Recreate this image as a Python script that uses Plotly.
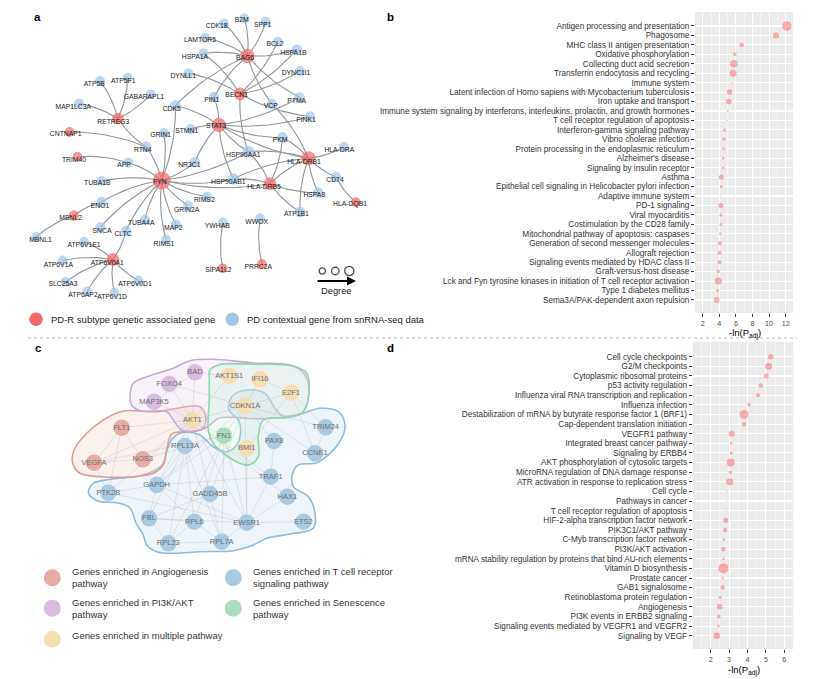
import numpy as np
import plotly.graph_objects as go

W, H = 828, 679

# ---------------- Panel b data ----------------
b_terms = [
    "Antigen processing and presentation", "Phagosome", "MHC class II antigen presentation",
    "Oxidative phosphorylation", "Collecting duct acid secretion", "Transferrin endocytosis and recycling",
    "Immune system", "Latent infection of Homo sapiens with Mycobacterium tuberculosis",
    "Iron uptake and transport",
    "Immune system signaling by interferons, interleukins, prolactin, and growth hormones",
    "T cell receptor regulation of apoptosis", "Interferon-gamma signaling pathway",
    "Vibrio cholerae infection", "Protein processing in the endoplasmic reticulum",
    "Alzheimer's disease", "Signaling by insulin receptor", "Asthma",
    "Epithelial cell signaling in Helicobacter pylori infection", "Adaptive immune system",
    "PD-1 signaling", "Viral myocarditis", "Costimulation by the CD28 family",
    "Mitochondrial pathway of apoptosis: caspases", "Generation of second messenger molecules",
    "Allograft rejection", "Signaling events mediated by HDAC class II", "Graft-versus-host disease",
    "Lck and Fyn tyrosine kinases in initiation of T cell receptor activation",
    "Type 1 diabetes mellitus", "Sema3A/PAK-dependent axon repulsion",
]
b_values = [12.15, 10.84, 6.7, 5.87, 5.75, 5.67, 5.51, 5.23, 5.15, 5.03, 4.91, 4.63, 4.55, 4.51,
            4.47, 4.47, 4.23, 4.23, 4.23, 4.19, 4.19, 4.19, 4.11, 4.07, 4.03, 4.03, 3.87, 3.87,
            3.79, 3.67]
b_ratio = [9.5, 6, 4.5, 3.5, 7.5, 7, 1.5, 5.5, 5.5, 2, 1.5, 3, 3.5, 2.5, 2.5, 2.5, 5, 3, 1.2,
           5, 3, 3, 2.5, 4, 4, 4, 3.5, 7, 3, 6]

# ---------------- Panel d data ----------------
d_terms = [
    "Cell cycle checkpoints", "G2/M checkpoints", "Cytoplasmic ribosomal proteins",
    "p53 activity regulation", "Influenza viral RNA transcription and replication",
    "Influenza infection", "Destabilization of mRNA by butyrate response factor 1 (BRF1)",
    "Cap-dependent translation initiation", "VEGFR1 pathway", "Integrated breast cancer pathway",
    "Signaling by ERBB4", "AKT phosphorylation of cytosolic targets",
    "MicroRNA regulation of DNA damage response", "ATR activation in response to replication stress",
    "Cell cycle", "Pathways in cancer", "T cell receptor regulation of apoptosis",
    "HIF-2-alpha transcription factor network", "PIK3C1/AKT pathway",
    "C-Myb transcription factor network", "PI3K/AKT activation",
    "mRNA stability regulation by proteins that bind AU-rich elements", "Vitamin D biosynthesis",
    "Prostate cancer", "GAB1 signalosome", "Retinoblastoma protein regulation", "Angiogenesis",
    "PI3K events in ERBB2 signaling", "Signaling events mediated by VEGFR1 and VEGFR2",
    "Signaling by VEGF",
]
d_values = [5.26, 5.15, 5.02, 4.72, 4.57, 4.08, 3.81, 3.81, 3.14, 3.12, 3.12, 3.09, 3.07, 3.03,
            2.90, 2.87, 2.87, 2.82, 2.78, 2.71, 2.69, 2.69, 2.69, 2.65, 2.65, 2.51, 2.49, 2.44,
            2.42, 2.33]
d_ratio = [5.5, 7, 5, 4.5, 4, 3.5, 9, 4.5, 6, 2.5, 3, 8, 3.5, 7, 1.2, 1.2, 1, 5, 4.5, 2.5, 4.5,
           2.5, 10, 2.5, 4.5, 3, 5.5, 3.5, 2.5, 6.5]

# ---------------- Panel a network (layout in page pixels) ----------------
a_nodes = [  # name, kind (R = PD-R gene, B = contextual), node x, y, label x, y
    ("B2M", "B", 244.3, 18.3, 241.7, 20.7), ("SPP1", "B", 265.7, 21.7, 262.7, 25),
    ("CDK18", "B", 224, 23.3, 216.7, 26), ("LAMTOR5", "B", 205, 37.7, 200, 40.7),
    ("BCL2", "B", 277.7, 41.7, 275, 44.3), ("HSPA1B", "B", 296.7, 49.3, 293.3, 53.3),
    ("BAG6", "R", 247.5, 56, 245, 58.7), ("HSPA1A", "B", 203.3, 53.3, 195, 57.3),
    ("DYNC1I1", "B", 300, 71, 296, 73.3), ("DYNLL1", "B", 188.3, 73.3, 183.3, 76.7),
    ("BECN1", "R", 240, 94, 236.7, 95.7), ("PIN1", "B", 214, 97, 211.7, 100.7),
    ("VCP", "B", 272, 104, 270.7, 106.7), ("PTMA", "B", 299.5, 97.3, 296.7, 101),
    ("CDK5", "B", 175.5, 105.5, 171.7, 109.3), ("ATP5B", "B", 100, 81, 94.3, 84.3),
    ("ATP5F1", "B", 127.7, 77.7, 123.3, 81), ("GABARAPL1", "B", 150.7, 94.3, 144, 97.3),
    ("MAP1LC3A", "B", 79, 103.3, 73.3, 107.7), ("RETREG3", "R", 118, 118.7, 113.3, 122.3),
    ("PINK1", "B", 310, 116.5, 306, 120), ("STAT3", "R", 219, 125, 216, 126.7),
    ("STMN1", "B", 190.5, 129, 186.7, 131.7), ("CNTNAP1", "R", 69.5, 132, 65.7, 134.7),
    ("GRIN1", "B", 164, 133, 160.7, 135.3), ("PKM", "B", 282.5, 137.5, 280, 140.7),
    ("RTN4", "B", 146, 146.7, 142.7, 150.5), ("HSP90AA1", "B", 248.3, 151.7, 243.3, 155.7),
    ("HLA-DRB1", "R", 308.5, 158.3, 304, 162.3), ("HLA-DRA", "B", 344, 147, 339.3, 150.7),
    ("TRIM40", "R", 77.5, 156.7, 74, 160.3), ("APP", "B", 128.3, 162.7, 124, 165.7),
    ("NR3C1", "B", 195, 162, 189.3, 165.7), ("FYN", "R", 161.7, 180.5, 160, 182),
    ("TUBA1B", "B", 101.7, 181, 97.3, 183.7), ("HSP90AB1", "B", 233.5, 179, 228.3, 182.5),
    ("HLA-DRB5", "R", 270, 183.7, 264, 187), ("CD74", "B", 336, 177, 335, 180),
    ("HSPA8", "B", 318.3, 192.5, 314.3, 195.3), ("HLA-DQB1", "R", 355.8, 202.2, 350, 204.3),
    ("RIMS2", "B", 207.3, 196.7, 204.3, 200.7), ("ENO1", "B", 101.5, 202, 100, 206.7),
    ("GRIN2A", "B", 188, 205.5, 186.7, 210.5), ("ATP1B1", "B", 300, 212, 296.5, 214),
    ("MBNL2", "R", 73.8, 215.5, 70.7, 218.7), ("YWHAB", "B", 223, 222.5, 217.3, 226.5),
    ("WWOX", "B", 260, 218.5, 256.7, 222), ("TUBA4A", "B", 145, 219.5, 141.2, 223.7),
    ("SNCA", "B", 100.5, 227, 102, 231.3), ("CLTC", "B", 126, 231, 123, 234.7),
    ("MAP2", "B", 176, 224.5, 173.3, 228.7), ("MBNL1", "B", 36, 237, 40.5, 240.7),
    ("RIMS1", "B", 166, 239.5, 164, 244), ("ATP6V1E1", "B", 84, 241.7, 84, 245.7),
    ("ATP6V0A1", "R", 113, 259.5, 107.3, 263.3), ("ATP6V1A", "B", 62.7, 260.5, 58.3, 265.3),
    ("SIPA1L2", "R", 222.7, 268.3, 218.3, 270), ("PRRC2A", "R", 262, 264, 258.3, 267.3),
    ("SLC25A3", "B", 65.5, 282, 63, 284.3), ("ATP6V0D1", "B", 138.5, 280.5, 135, 284.2),
    ("ATP6AP2", "B", 87.3, 291.5, 83, 295.5), ("ATP6V1D", "B", 114.5, 292.5, 112, 297.3),
]
a_edges = [
    ("BAG6", "B2M"), ("BAG6", "SPP1"), ("BAG6", "CDK18"), ("BAG6", "LAMTOR5"), ("BAG6", "HSPA1A"),
    ("BAG6", "HSPA1B"), ("BAG6", "CDK5"), ("BAG6", "PIN1"), ("BAG6", "VCP"), ("BAG6", "PTMA"),
    ("BECN1", "HSPA1A"), ("BECN1", "DYNLL1"), ("BECN1", "BCL2"), ("BECN1", "HSPA1B"),
    ("BECN1", "DYNC1I1"), ("BECN1", "PINK1"), ("BECN1", "HSP90AA1"),
    ("STAT3", "PIN1"), ("STAT3", "CDK5"), ("STAT3", "STMN1"), ("STAT3", "PTMA"), ("STAT3", "PINK1"),
    ("STAT3", "PKM"), ("STAT3", "HSP90AA1"), ("STAT3", "HSP90AB1"), ("STAT3", "NR3C1"),
    ("STAT3", "HLA-DRB1"),
    ("FYN", "RTN4"), ("FYN", "APP"), ("FYN", "TUBA1B"), ("FYN", "ENO1"), ("FYN", "SNCA"),
    ("FYN", "TUBA4A"), ("FYN", "RIMS1"), ("FYN", "MAP2"), ("FYN", "GRIN2A"), ("FYN", "RIMS2"),
    ("FYN", "HSP90AB1"), ("FYN", "HSP90AA1"), ("FYN", "NR3C1"), ("FYN", "GRIN1"), ("FYN", "CDK5"),
    ("FYN", "CLTC"), ("FYN", "HLA-DRB5"),
    ("RETREG3", "ATP5B"), ("RETREG3", "ATP5F1"), ("RETREG3", "GABARAPL1"), ("RETREG3", "MAP1LC3A"),
    ("RETREG3", "RTN4"), ("RTN4", "CNTNAP1"), ("APP", "TRIM40"), ("ENO1", "MBNL2"),
    ("MBNL2", "MBNL1"),
    ("ATP6V0A1", "ATP6V1E1"), ("ATP6V0A1", "ATP6V1A"), ("ATP6V0A1", "SLC25A3"),
    ("ATP6V0A1", "ATP6AP2"), ("ATP6V0A1", "ATP6V1D"), ("ATP6V0A1", "ATP6V0D1"),
    ("ATP6V0A1", "CLTC"),
    ("HLA-DRB1", "HLA-DRA"), ("HLA-DRB1", "CD74"), ("HLA-DRB1", "HSPA8"), ("HLA-DRB1", "ATP1B1"),
    ("HLA-DRB1", "VCP"), ("HLA-DRB1", "PKM"), ("HLA-DRB1", "HSP90AA1"), ("HLA-DRB1", "HSP90AB1"),
    ("HLA-DRB1", "HLA-DRB5"),
    ("HLA-DRB5", "HSP90AB1"), ("HLA-DRB5", "HSPA8"), ("HLA-DRB5", "ATP1B1"), ("HLA-DRB5", "PKM"),
    ("HLA-DRB5", "HSP90AA1"),
    ("CD74", "HLA-DQB1"), ("YWHAB", "SIPA1L2"), ("WWOX", "PRRC2A"),
]

# ---------------- Panel c network ----------------
c_groups = {
    "A": ("Genes enriched in Angiogenesis<br>pathway", "#E6ABA4"),
    "T": ("Genes enriched in T cell receptor<br>signaling pathway", "#A9CAE3"),
    "P": ("Genes enriched in PI3K/AKT<br>pathway", "#D9BDE1"),
    "S": ("Genes enriched in Senescence<br>pathway", "#AADDBF"),
    "M": ("Genes enriched in multiple pathway", "#F5DDB4"),
}
c_nodes = [
    ("BAD", "P", 195, 372.3), ("FOXO4", "P", 169.3, 384), ("MAP3K5", "P", 154, 401.7),
    ("AKT1S1", "M", 229.3, 376), ("IFI16", "M", 260, 379.3), ("E2F1", "M", 291, 392.7),
    ("CDKN1A", "M", 245, 406), ("AKT1", "M", 192.3, 420), ("FLT1", "A", 121.7, 427.7),
    ("FN1", "S", 224, 435.7), ("BMI1", "M", 246.7, 448.3), ("PAX8", "T", 274, 441),
    ("TRIM24", "T", 325.7, 427.3), ("CCNE1", "T", 315, 453.3), ("RPL13A", "T", 185, 446),
    ("VEGFA", "A", 94, 462.7), ("NOS3", "A", 142.7, 459.3), ("TRAF1", "T", 270.7, 476.7),
    ("GAPDH", "T", 156.7, 485), ("PTK2B", "T", 108.3, 492.7), ("GADD45B", "T", 210, 494),
    ("HAX1", "T", 287.3, 496.7), ("FBL", "T", 149, 518.3), ("RPL6", "T", 194.3, 521.7),
    ("EWSR1", "T", 246.7, 522.7), ("ETS2", "T", 303.3, 521.7), ("RPL23", "T", 168.3, 543.3),
    ("RPL7A", "T", 221.7, 541.7),
]
c_edges = [
    ("VEGFA", "FLT1"), ("VEGFA", "NOS3"), ("VEGFA", "AKT1"), ("VEGFA", "PTK2B"), ("VEGFA", "FN1"),
    ("FLT1", "NOS3"), ("FLT1", "AKT1"), ("FLT1", "PTK2B"), ("NOS3", "AKT1"), ("NOS3", "FN1"),
    ("MAP3K5", "AKT1"), ("MAP3K5", "BAD"), ("FOXO4", "AKT1"), ("FOXO4", "CDKN1A"),
    ("BAD", "AKT1"), ("BAD", "AKT1S1"), ("AKT1S1", "AKT1"), ("IFI16", "CDKN1A"), ("IFI16", "E2F1"),
    ("E2F1", "CDKN1A"), ("E2F1", "CCNE1"), ("E2F1", "TRIM24"), ("E2F1", "BMI1"),
    ("CDKN1A", "AKT1"), ("CDKN1A", "FN1"), ("CDKN1A", "PAX8"), ("CDKN1A", "CCNE1"),
    ("CDKN1A", "GADD45B"), ("CDKN1A", "EWSR1"), ("CDKN1A", "GAPDH"), ("CDKN1A", "TRIM24"),
    ("AKT1", "FN1"), ("AKT1", "GAPDH"), ("AKT1", "RPL13A"), ("AKT1", "GADD45B"), ("AKT1", "EWSR1"),
    ("AKT1", "PTK2B"), ("AKT1", "TRAF1"), ("AKT1", "HAX1"), ("FN1", "GAPDH"), ("FN1", "RPL6"),
    ("FN1", "EWSR1"), ("FN1", "RPL7A"), ("FN1", "RPL23"), ("BMI1", "EWSR1"),
    ("RPL13A", "RPL6"), ("RPL13A", "RPL7A"), ("RPL13A", "FBL"), ("RPL13A", "RPL23"),
    ("RPL13A", "GAPDH"), ("GAPDH", "FBL"), ("GAPDH", "EWSR1"), ("GAPDH", "PTK2B"),
    ("GAPDH", "TRAF1"), ("GAPDH", "RPL6"), ("GADD45B", "RPL7A"), ("GADD45B", "FBL"),
    ("PTK2B", "EWSR1"), ("FBL", "RPL6"), ("FBL", "EWSR1"), ("FBL", "RPL23"), ("RPL6", "RPL7A"),
    ("RPL6", "RPL23"), ("RPL23", "RPL7A"), ("EWSR1", "ETS2"), ("EWSR1", "RPL7A"),
    ("EWSR1", "HAX1"), ("EWSR1", "TRAF1"), ("PAX8", "TRAF1"), ("CCNE1", "TRIM24"),
]
# pathway hull outlines (page pixels): outline colour, fill colour, points
c_hulls = [
    ("#8DBBDD", "rgba(205,224,240,0.35)", [
        (228.3, 406.7), (233.3, 395), (248.3, 390), (265, 393.3), (275, 408.3), (283.3, 416),
        (300, 414), (320, 408.3), (338.3, 411.7), (345, 425), (341.7, 438.3), (330, 453.3),
        (316.7, 462.7), (298.3, 465), (292.7, 473.3), (293.3, 486.7), (308.3, 496.7),
        (315, 513.3), (313.3, 528.3), (290, 534), (266.7, 538.3), (253.3, 545), (233.3, 550.7),
        (200, 551.7), (173.3, 553.3), (156.7, 551.7), (146.7, 545), (143.3, 535), (136, 523),
        (130, 508), (118, 503), (98, 501), (88.5, 493), (93, 483.5), (110, 479.3), (143.3, 475),
        (162, 465), (167, 450), (172, 439), (181.7, 432.7), (200, 435), (213.3, 446.7),
        (226.7, 451.7), (236.7, 445), (240.7, 430), (238.3, 420), (230, 411.7)]),
    ("#E39A91", "rgba(240,205,200,0.30)", [
        (200, 406.7), (206, 418.3), (201.7, 429.3), (186.7, 431.7), (171.7, 434), (166.7, 450),
        (163.3, 465), (153.3, 473.3), (133.3, 476.7), (100, 476.7), (80, 473.3), (72.7, 463.3),
        (74, 450), (86.7, 433.3), (103.3, 420), (123.3, 411), (156.7, 411.7), (180, 407.7)]),
    ("#C8A7D8", "rgba(228,208,236,0.28)", [
        (130, 396.7), (133.3, 383.3), (146.7, 376.7), (173.3, 368.3), (190, 360.7),
        (213.3, 359.3), (253.3, 363), (293.3, 366), (306.7, 378), (308.3, 398.3), (301.7, 413.3),
        (283.3, 417.3), (253.3, 418.7), (233.3, 417.3), (218.3, 418.3), (210, 425), (200, 430),
        (181.7, 430), (173.3, 420), (166.7, 411.7), (140, 410.7), (131.7, 405)]),
    ("#8FD6AA", "rgba(205,236,215,0.28)", [
        (210, 370), (220, 364.5), (253.3, 364.3), (293.3, 366), (306.7, 373.3), (309, 393.3),
        (303.3, 411.7), (290, 417.3), (263.3, 420), (258.3, 436.7), (258.3, 456.7), (248.3, 465),
        (233.3, 460), (213.3, 443.3), (208.3, 430), (209.3, 400), (209.3, 380)]),
]

# ---------------- helpers ----------------
def curve(p, q, bend=0.12, n=14):
    x0, y0 = p
    x1, y1 = q
    cx = (x0 + x1) / 2 - (y1 - y0) * bend
    cy = (y0 + y1) / 2 + (x1 - x0) * bend
    t = np.linspace(0, 1, n)
    xs = (1 - t) ** 2 * x0 + 2 * (1 - t) * t * cx + t ** 2 * x1
    ys = (1 - t) ** 2 * y0 + 2 * (1 - t) * t * cy + t ** 2 * y1
    return list(xs), list(ys)

fig = go.Figure()
FONT = "Liberation Sans, Arial, sans-serif"

# ---------- panel a ----------
apos = {n[0]: (n[2], n[3]) for n in a_nodes}
deg = {n[0]: 0 for n in a_nodes}
ex, ey = [], []
for s, t in a_edges:
    deg[s] += 1
    deg[t] += 1
    xs, ys = curve(apos[s], apos[t], bend=0.1)
    ex += xs + [None]
    ey += ys + [None]
fig.add_trace(go.Scatter(x=ex, y=ey, mode="lines", line=dict(color="#8E959C", width=1.1),
                         hoverinfo="skip", xaxis="x", yaxis="y"))
for kind, col in (("B", "#A4C4E8"), ("R", "#F46A6A")):
    sub = [n for n in a_nodes if n[1] == kind]
    fig.add_trace(go.Scatter(
        x=[n[2] for n in sub], y=[n[3] for n in sub], mode="markers",
        marker=dict(color=col, size=[min(9.3 + 0.5 * deg[n[0]], 18.5) for n in sub],
                    line=dict(width=0)),
        hoverinfo="skip", xaxis="x", yaxis="y"))
fig.add_trace(go.Scatter(
    x=[n[4] for n in a_nodes], y=[n[5] for n in a_nodes], text=[n[0] for n in a_nodes],
    mode="text", textfont=dict(family=FONT, size=6.8, color="#151515"),
    hoverinfo="skip", xaxis="x", yaxis="y"))
# legend of panel a
fig.add_trace(go.Scatter(x=[36, 232.3], y=[319.3, 319.3], mode="markers",
                         marker=dict(color=["#F46A6A", "#A4C4E8"], size=13.5),
                         hoverinfo="skip", xaxis="x", yaxis="y"))
fig.add_trace(go.Scatter(x=[322.3, 335.3, 349.3], y=[271, 271, 271], mode="markers",
                         marker=dict(symbol="circle-open", color="black", size=[6.2, 7.5, 9.2],
                                     line=dict(width=1.3)),
                         hoverinfo="skip", xaxis="x", yaxis="y"))

# ---------- panel c ----------
for lc, fc, pts in c_hulls:
    xs = [p[0] for p in pts] + [pts[0][0]]
    ys = [p[1] for p in pts] + [pts[0][1]]
    fig.add_trace(go.Scatter(x=xs, y=ys, mode="lines", fill="toself", fillcolor=fc,
                             line=dict(color=lc, width=1.6, shape="spline", smoothing=1.0),
                             hoverinfo="skip", xaxis="x", yaxis="y"))
cpos = {n[0]: (n[2], n[3]) for n in c_nodes}
cx_, cy_ = [], []
for s, t in c_edges:
    cx_ += [cpos[s][0], cpos[t][0], None]
    cy_ += [cpos[s][1], cpos[t][1], None]
fig.add_trace(go.Scatter(x=cx_, y=cy_, mode="lines", line=dict(color="rgba(170,170,170,0.45)", width=0.6),
                         hoverinfo="skip", xaxis="x", yaxis="y"))
fig.add_trace(go.Scatter(
    x=[n[2] for n in c_nodes], y=[n[3] for n in c_nodes], mode="markers+text",
    text=[n[0] for n in c_nodes], textposition="middle center",
    textfont=dict(family=FONT, size=7.5, color="#6E6E6E"),
    marker=dict(color=[c_groups[n[1]][1] for n in c_nodes], size=16.5, line=dict(width=0)),
    hoverinfo="skip", xaxis="x", yaxis="y"))
# legend of panel c
c_leg_pos = {"A": (52.3, 577.7), "T": (233.3, 577.7), "P": (52.3, 608.3),
             "S": (233.3, 608.3), "M": (52.3, 639.3)}
fig.add_trace(go.Scatter(x=[c_leg_pos[k][0] for k in c_groups], y=[c_leg_pos[k][1] for k in c_groups],
                         mode="markers", marker=dict(color=[c_groups[k][1] for k in c_groups], size=17),
                         hoverinfo="skip", xaxis="x", yaxis="y"))

# ---------- panels b and d: dot plots ----------
DOT = "rgba(248,100,100,0.72)"
fig.add_trace(go.Scatter(x=b_values, y=list(range(len(b_terms))), mode="markers",
                         marker=dict(color=DOT, size=b_ratio, line=dict(width=0)),
                         hoverinfo="skip", xaxis="x2", yaxis="y2"))
fig.add_trace(go.Scatter(x=d_values, y=list(range(len(d_terms))), mode="markers",
                         marker=dict(color=DOT, size=d_ratio, line=dict(width=0)),
                         hoverinfo="skip", xaxis="x3", yaxis="y3"))

annotations = []
def ann(x, y, text, size, color="#111", xanchor="center", yanchor="middle", bold=False, align="left"):
    annotations.append(dict(x=x, y=y, xref="x", yref="y", text=f"<b>{text}</b>" if bold else text,
                            showarrow=False, xanchor=xanchor, yanchor=yanchor, align=align,
                            font=dict(family=FONT, size=size, color=color)))

ann(37.7, 16.7, "a", 11.5, "#000", bold=True)
ann(390, 17, "b", 11.5, "#000", bold=True)
ann(38.7, 348, "c", 11.5, "#000", bold=True)
ann(390, 348, "d", 11.5, "#000", bold=True)
ann(48.5, 319.5, "PD-R subtype genetic associated gene", 9.5, "#222", xanchor="left")
ann(245, 319.5, "PD contextual gene from snRNA-seq data", 9.5, "#222", xanchor="left")
ann(336, 291, "Degree", 9.3, "#222")
for k in c_groups:
    lx, ly = c_leg_pos[k]
    ann(lx + 17.5, ly - (4 if k == "M" else 0), c_groups[k][0], 9.5, "#333", xanchor="left")
ann(744.5, 333.5, "-ln(P<sub>adj</sub>)", 9.5, "#000")
ann(743.5, 670.5, "-ln(P<sub>adj</sub>)", 9.5, "#000")
# degree arrow
annotations.append(dict(x=356, y=281, ax=316, ay=281, xref="x", yref="y", axref="x", ayref="y",
                        text="", showarrow=True, arrowhead=2, arrowsize=1.0, arrowwidth=1.8,
                        arrowcolor="black"))

shapes = [
    dict(type="rect", xref="x2 domain", yref="y2 domain", x0=0, x1=1, y0=0, y1=1,
         fillcolor="#EBEBEB", line=dict(width=0), layer="below"),
    dict(type="rect", xref="x3 domain", yref="y3 domain", x0=0, x1=1, y0=0, y1=1,
         fillcolor="#EBEBEB", line=dict(width=0), layer="below"),
    dict(type="line", xref="x", yref="y", x0=28, x1=797, y0=338, y1=338,
         line=dict(color="#BDBDBD", width=1, dash="dot")),
]

def dot_x(rng, dtick, minor):
    return dict(range=rng, tick0=0, dtick=dtick, showgrid=True, gridcolor="white", gridwidth=1.1,
                zeroline=False, showline=False, ticks="outside", ticklen=3, tickwidth=1,
                tickcolor="#333", tickfont=dict(family=FONT, size=7.2, color="#4D4D4D"),
                minor=dict(dtick=minor, tick0=0, showgrid=True, gridcolor="white", gridwidth=0.5,
                           ticks=""), fixedrange=True)

def dot_y(rng, terms):
    return dict(range=rng, tickmode="array", tickvals=list(range(len(terms))), ticktext=terms,
                showgrid=True, gridcolor="white", gridwidth=1.1, zeroline=False, showline=False,
                ticks="outside", ticklen=3, tickwidth=1, tickcolor="#333",
                tickfont=dict(family=FONT, size=8.2, color="#333"), fixedrange=True)

fig.update_layout(
    width=W, height=H, margin=dict(l=0, r=0, t=0, b=0),
    paper_bgcolor="white", plot_bgcolor="rgba(0,0,0,0)", showlegend=False,
    font=dict(family=FONT),
    xaxis=dict(domain=[0, 1], range=[0, W], visible=False, fixedrange=True),
    yaxis=dict(domain=[0, 1], range=[H, 0], visible=False, fixedrange=True),
    xaxis2=dict(domain=[695 / W, 793 / W], anchor="y2", **dot_x([1.07, 12.88], 2, 1)),
    yaxis2=dict(domain=[1 - 313 / H, 1 - 12 / H], anchor="x2", **dot_y([30.38, -1.48], b_terms)),
    xaxis3=dict(domain=[692.7 / W, 793.3 / W], anchor="y3", **dot_x([1.02, 6.49], 1, 0.5)),
    yaxis3=dict(domain=[1 - 649 / H, 1 - 342 / H], anchor="x3", **dot_y([30.38, -1.53], d_terms)),
    annotations=annotations, shapes=shapes,
)

fig.write_html("out.html", config={"displayModeBar": False, "staticPlot": True},
               post_script="document.body.style.margin='0';")
